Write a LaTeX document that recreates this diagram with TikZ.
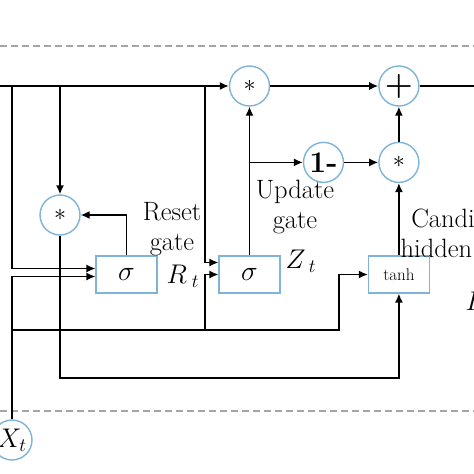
\RequirePackage{fix-cm}
\documentclass[tikz,border=0pt]{standalone}
\usepackage{amsmath,amssymb}
\usetikzlibrary{
	positioning,
	calc,
	arrows.meta
}
\definecolor{GateBlue}{RGB}{125,180,215}
\definecolor{GuideGray}{RGB}{165,165,165}

\begin{document}
\begin{tikzpicture}[
	x=1pt,y=-1pt,
	op/.style={
		circle,
		draw=GateBlue,
		line width=1.4pt,
		fill=white,
		minimum size=40pt,
		inner sep=0pt,
		font=\fontsize{24}{24}\selectfont
	},
	gatebox/.style={
		draw=GateBlue,
		line width=1.2pt,
		fill=white,
		minimum width=61pt,
		minimum height=37pt,
		inner sep=0pt
	},
	flow/.style={
		-{Latex[length=9pt,width=8pt]},
		line width=1.4pt
	},
	wire/.style={
		line width=1.4pt
	},
	lbl/.style={
		font=\fontsize{26.5}{30}\selectfont,
		align=center
	},
	mlbl/.style={
		font=\fontsize{27}{27}\selectfont
	}
	]
	
	\useasboundingbox (0,0) rectangle (474,474);
	\clip (0,0) rectangle (474,474);
	
	% guide lines
	\draw[GuideGray, line width=1.6pt, dash pattern=on 7pt off 4pt] (0,46) -- (474,46);
	\draw[GuideGray, line width=1.6pt, dash pattern=on 7pt off 4pt] (0,411) -- (474,411);
	
	% operators
	\node[op] (mulT) at (249.5,86) {$\ast$};
	\node[op, right=108pt of mulT, font=\fontsize{32}{32}\selectfont] (add) {$\boldsymbol{+}$};
	\node[op, below=35pt of add] (mulZ) {$\ast$};
	\node[op, left=34pt of mulZ, font=\fontsize{30}{30}\selectfont\bfseries] (one) {1-};
	\node[op] (mulR) at (60,215) {$\ast$};
	\node[op, mlbl] (xin) at (12,440) {$X_{t}$};
	
	% gates
	\node[gatebox, font=\fontsize{28}{28}\selectfont] (sigR) at (126.5,274.5) {$\sigma$};
	\node[gatebox, font=\fontsize{28}{28}\selectfont] (sigZ) at (249.5,274.5) {$\sigma$};
	\node[gatebox, font=\fontsize{17}{17}\selectfont] (tanh) at (mulZ |- sigZ) {tanh};
	
	% labels
	\node[lbl] (resetlbl) at (172,229) {Reset\\gate};
	\node[lbl] (updatelbl) at (295,207) {Update\\gate};
	\node[lbl] (candlbl) at (466,233) {Candidate\\hidden state};
	\node[mlbl, anchor=base west] (rlbl) at (163,283) {$R_{\;t}$};
	\node[mlbl, anchor=base west] (zlbl) at (282,268) {$Z_{\;t}$};
	\node[mlbl, anchor=base west] (hlbl) at (462,310) {$H_{t}$};
	
	% taps
	\coordinate (hin) at (0,86);
	\coordinate (hout) at (474,86);
	\coordinate (tapA) at (12,86);
	\coordinate (tapB) at (60,86);
	\coordinate (tapC) at (205,86);
	\coordinate (xsplit) at (12,330);
	\coordinate (zsplit) at (205,330);
	\coordinate (hbend) at (339,330);
	\coordinate (rlow) at (60,378);
	\coordinate (ztap) at (sigZ.north |- one);
	
	% connectors
	\draw[flow] (hin) -- (mulT);
	\draw[flow] (mulT) -- (add);
	\draw[wire] (add) -- (hout);
	\draw[flow] (tapA) |- ([yshift=6pt]sigR.west);
	\draw[flow] (xin) |- ([yshift=-2pt]sigR.west);
	\draw[flow] (tapB) -- (mulR);
	\draw[flow] (sigR.north) |- (mulR);
	\draw[flow] (tapC) |- ([yshift=12pt]sigZ.west);
	\draw[flow] (xsplit) -- (zsplit) |- (sigZ.west);
	\draw[flow] (zsplit) -- (hbend) |- (tanh.west);
	\draw[flow] (mulR) -- (rlow) -| (tanh.south);
	\draw[flow] (sigZ) -- (mulT);
	\draw[flow] (ztap) -- (one);
	\draw[flow] (one) -- (mulZ);
	\draw[flow] (mulZ) -- (add);
	\draw[flow] (tanh) -- (mulZ);
	
\end{tikzpicture}
\end{document}
